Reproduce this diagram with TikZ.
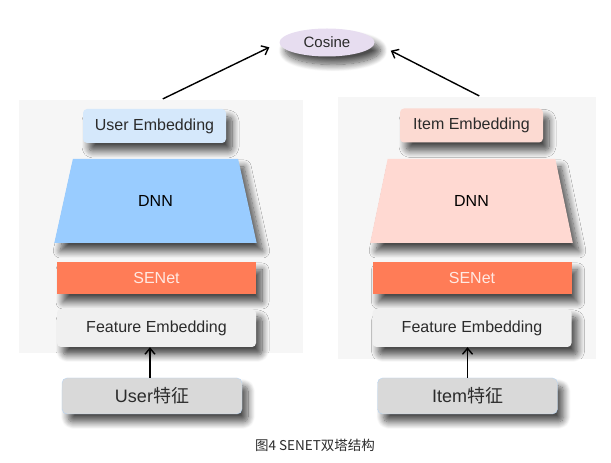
\documentclass[tikz,border=0pt]{standalone}
\usepackage{fontspec}
\setmainfont{Liberation Sans}
\newfontfamily\cjk{Noto Sans CJK SC}
\usetikzlibrary{shapes.geometric, arrows.meta, shadows.blur}
\definecolor{panelgray}{HTML}{F6F6F6}
\definecolor{userblue}{HTML}{D5E8FB}
\definecolor{itempink}{HTML}{FCDAD2}
\definecolor{dnnblue}{HTML}{99CCFF}
\definecolor{dnnpink}{HTML}{FFD9D2}
\definecolor{senetred}{HTML}{FF7C57}
\definecolor{senettext}{HTML}{FFE9E2}
\definecolor{featgray}{HTML}{F0F0F0}
\definecolor{inputgray}{HTML}{D9D9D9}
\definecolor{inputborder}{HTML}{B9D5F2}
\definecolor{cosinefill}{HTML}{E7DDF0}
\definecolor{textgray}{HTML}{2B2B2B}
\tikzstyle{softShadow} = [blur shadow={shadow xshift=6pt, shadow yshift=-8pt, shadow blur steps=12, shadow blur radius=7pt, shadow opacity=70}]
\tikzstyle{panel} = [rectangle, fill=panelgray]
\tikzstyle{embBox} = [rectangle, rounded corners=4pt, minimum width=143pt, minimum height=34pt, text centered, text=textgray, font=\fontsize{16pt}{19pt}\selectfont, softShadow]
\tikzstyle{blueEmb} = [embBox, fill=userblue]
\tikzstyle{pinkEmb} = [embBox, fill=itempink]
\tikzstyle{dnnBox} = [trapezium, trapezium stretches=true, minimum width=203pt, minimum height=84pt, text centered, text=black, font=\fontsize{16pt}{19pt}\selectfont, softShadow]
\tikzstyle{senetBox} = [rectangle, minimum width=199pt, minimum height=32pt, fill=senetred, text=senettext, font=\fontsize{16pt}{19pt}\selectfont, softShadow]
\tikzstyle{featBox} = [rectangle, rounded corners=4pt, minimum width=199pt, minimum height=38pt, fill=featgray, text=textgray, font=\fontsize{16pt}{19pt}\selectfont, softShadow]
\tikzstyle{inputBox} = [rectangle, rounded corners=5pt, minimum width=180pt, minimum height=36pt, fill=inputgray, draw=inputborder, text=textgray, font=\fontsize{18pt}{21pt}\selectfont, softShadow]
\tikzstyle{cosineBox} = [ellipse, minimum width=95pt, minimum height=28pt, inner sep=0pt, fill=cosinefill, text=textgray, font=\fontsize{15pt}{18pt}\selectfont, softShadow]
\tikzstyle{arrow} = [line width=1.4pt,-{Straight Barb[length=6pt,width=10pt]}]

\begin{document}
\begin{tikzpicture}[x=1pt,y=1pt,node distance=50pt]
\useasboundingbox (0,0) rectangle (611,463);

\node (panelL) [panel, minimum width=284pt, minimum height=253pt] at (161,236.5) {};
\node (panelR) [panel, minimum width=258pt, minimum height=262pt] at (467,235) {};

\node (cosine) [cosineBox] at (327,420.5) {Cosine};

% user tower
\node (userEmb) [blueEmb] at (154.5,337) {User Embedding};
\node (dnnL) [dnnBox, fill=dnnblue, trapezium left angle=75.3, trapezium right angle=75.3, below of=userEmb, xshift=1pt, yshift=-25pt] {DNN};
\node (senetL) [senetBox, below of=dnnL, xshift=1pt, yshift=-27pt] {SENet};
\node (featL) [featBox, below of=senetL] {Feature Embedding};
\node (userFeat) [inputBox, below of=featL, xshift=-4.5pt, yshift=-18pt] {User{\cjk 特征}};

% item tower
\node (itemEmb) [pinkEmb] at (471.5,337.5) {Item Embedding};
\node (dnnR) [dnnBox, fill=dnnpink, trapezium left angle=76.3, trapezium right angle=76.3, below of=itemEmb, yshift=-25.5pt] {DNN};
\node (senetR) [senetBox, below of=dnnR, xshift=0.5pt, yshift=-27pt] {SENet};
\node (featR) [featBox, below of=senetR] {Feature Embedding};
\node (itemFeat) [inputBox, below of=featR, xshift=-4.5pt, yshift=-18pt] {Item{\cjk 特征}};

\node (caption) [font=\cjk\fontsize{13.5pt}{16pt}\selectfont, text=textgray] at (315,18) {图4 SENET双塔结构};

\draw [arrow] ([xshift=-2pt]userFeat.north) -- ([xshift=-2pt]userFeat.north |- featL.south);
\draw [arrow] (itemFeat.north) -- (itemFeat.north |- featR.south);
\draw [arrow, shorten <=2pt, shorten >=11pt] (panelL.north) -- (cosine.west);
\draw [arrow, shorten <=2pt, shorten >=18pt] ([xshift=14pt]panelR.north) -- (cosine.east);
\end{tikzpicture}
\end{document}
